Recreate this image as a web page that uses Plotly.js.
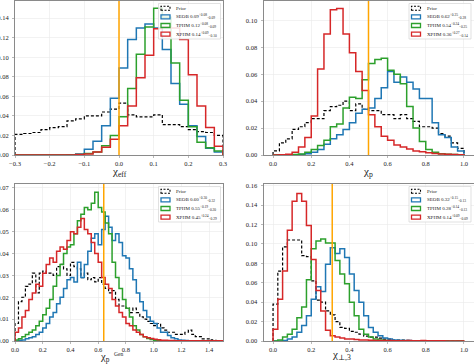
<!DOCTYPE html>
<html><head><meta charset="utf-8">
<script src="https://cdn.plot.ly/plotly-3.0.1.min.js"></script>
<style>html,body{margin:0;padding:0;background:#fff}#chart{width:474px;height:364px}</style>
</head><body><div id="chart"></div>
<script>
// ---------------- data ----------------
const axisTitles = ['χ<sub>eff</sub>', 'χ<sub>p</sub>', 'χ<sub>p</sub>', 'χ<sub>⊥,3</sub>'];
const axisTitleSup = ['', '', 'Gen', ''];
const binLo = [-0.3, 0, 0, 0];
const binHi = [0.3, 1, 1.5, 1];
const injected = [0, 0.5, 0.64, 0.31];
const seriesNames = ['Prior', 'SEOB', 'TPHM', 'XPHM'];

const medSEOB = [0.09, 0.62, 0.60, 0.32], upSEOB = [0.08, 0.25, 0.30, 0.15], loSEOB = [0.09, 0.28, 0.32, 0.13];
const medTPHM = [0.12, 0.54, 0.55, 0.28], upTPHM = [0.08, 0.24, 0.19, 0.14], loTPHM = [0.09, 0.25, 0.20, 0.13];
const medXPHM = [0.14, 0.36, 0.45, 0.14], upXPHM = [0.09, 0.27, 0.24, 0.09], loXPHM = [0.10, 0.14, 0.29, 0.09];

// panel 1: chi_eff (24 bins)
const prior1 = [0.021,0.022,0.023,0.026,0.028,0.029,0.035,0.037,0.040,0.040,0.044,0.047,0.053,0.041,0.039,0.039,0.041,0.031,0.031,0.029,0.026,0.024,0.023,0.020];
const seob1  = [0,0,0,0,0,0,0.0003,0.001,0.006,0.014,0.030,0.058,0.089,0.118,0.130,0.134,0.130,0.108,0.073,0.052,0.030,0.019,0.007,0.003];
const tphm1  = [0,0,0,0,0,0,0,0.0005,0.0015,0.003,0.0095,0.020,0.039,0.068,0.103,0.131,0.150,0.141,0.094,0.056,0.029,0.013,0.0075,0.004];
const xphm1  = [0,0,0,0,0,0,0,0.0005,0.001,0.003,0.008,0.016,0.030,0.050,0.079,0.102,0.129,0.131,0.130,0.118,0.082,0.050,0.028,0.009];

// panel 2: chi_p (30 bins)
const prior2 = [0.003,0.009,0.012,0.019,0.021,0.024,0.027,0.027,0.033,0.036,0.037,0.040,0.033,0.038,0.034,0.033,0.033,0.030,0.030,0.027,0.030,0.027,0.025,0.021,0.021,0.020,0.016,0.014,0.009,0.005];
const seob2  = [0,0,0,0,0.0003,0.001,0.002,0.004,0.008,0.012,0.015,0.019,0.024,0.031,0.034,0.035,0.042,0.050,0.062,0.054,0.058,0.054,0.049,0.042,0.042,0.024,0.015,0.013,0.006,0.003];
const tphm2  = [0,0,0,0.0003,0.0007,0.002,0.004,0.007,0.011,0.021,0.023,0.035,0.043,0.042,0.056,0.068,0.071,0.072,0.063,0.060,0.053,0.036,0.020,0.010,0.004,0.002,0.001,0.0005,0.0003,0.0001];
const xphm2  = [0,0.0002,0.0005,0.002,0.006,0.013,0.029,0.064,0.090,0.108,0.109,0.090,0.076,0.062,0.048,0.030,0.021,0.014,0.011,0.0074,0.006,0.0044,0.003,0.0025,0.0017,0.0012,0.0008,0.0005,0.0003,0.0002];

// panel 3: chi_p^Gen (60 bins)
const prior3 = [0.008,0.018,0.020,0.025,0.026,0.031,0.022,0.031,0.032,0.031,0.031,0.030,0.034,0.035,0.033,0.030,0.036,0.034,0.033,0.029,0.031,0.028,0.029,0.027,0.029,0.026,0.024,0.022,0.023,0.019,0.016,0.016,0.015,0.013,0.015,0.013,0.011,0.010,0.009,0.008,0.007,0.008,0.006,0.005,0.004,0.004,0.003,0.003,0.003,0.004,0.005,0.003,0.002,0.002,0.001,0.001,0.0005,0.0003,0.0002,0.0001];
const seob3  = [0,0.0003,0.0005,0.001,0.0015,0.002,0.003,0.004,0.006,0.008,0.011,0.013,0.017,0.020,0.024,0.028,0.029,0.027,0.036,0.029,0.035,0.041,0.047,0.049,0.044,0.051,0.057,0.052,0.046,0.049,0.045,0.039,0.038,0.033,0.028,0.022,0.018,0.014,0.011,0.009,0.008,0.006,0.004,0.004,0.0025,0.0015,0.001,0.0005,0.0003,0.0002,0.0001,0,0,0,0,0,0,0,0,0];
const tphm3  = [0.0005,0.001,0.002,0.003,0.004,0.005,0.007,0.009,0.012,0.015,0.019,0.025,0.030,0.035,0.040,0.043,0.044,0.049,0.055,0.058,0.061,0.060,0.063,0.068,0.061,0.059,0.054,0.049,0.036,0.029,0.024,0.019,0.015,0.011,0.007,0.005,0.003,0.002,0.0012,0.0007,0.0004,0.0002,0.0001,0,0,0,0,0,0,0,0,0,0,0,0,0,0,0,0,0];
const xphm3  = [0.004,0.006,0.011,0.014,0.019,0.022,0.026,0.025,0.031,0.035,0.038,0.036,0.041,0.043,0.042,0.046,0.050,0.049,0.052,0.056,0.051,0.049,0.045,0.040,0.036,0.029,0.026,0.024,0.019,0.016,0.013,0.011,0.008,0.007,0.005,0.004,0.003,0.002,0.0015,0.0012,0.0008,0.0006,0.0004,0.0003,0.0002,0.0002,0.0001,0.0001,0.0001,0.0001,0.0001,0.0001,0.0001,0.0001,0.0001,0.0001,0.0001,0.0001,0.0001,0.0001];

// panel 4: chi_perp,3 (40 bins)
const prior4 = [0.038,0.072,0.097,0.104,0.104,0.104,0.088,0.087,0.062,0.042,0.040,0.031,0.027,0.020,0.014,0.013,0.010,0.009,0.007,0.005,0.004,0.004,0.003,0.002,0.002,0.001,0.001,0.0008,0.0006,0.0005,0.0004,0.0003,0.0003,0.0002,0.0002,0.0001,0.0001,0.0001,0.0001,0];
const seob4  = [0,0,0.0005,0.002,0.004,0.009,0.016,0.026,0.043,0.056,0.051,0.079,0.096,0.090,0.095,0.086,0.069,0.052,0.040,0.026,0.014,0.009,0.0055,0.003,0.002,0.001,0.0008,0.0005,0.0004,0.0003,0.0002,0.0002,0.0001,0.0001,0.0001,0.0001,0,0,0,0];
const tphm4  = [0,0.001,0.004,0.007,0.012,0.024,0.035,0.063,0.095,0.103,0.105,0.101,0.101,0.083,0.069,0.059,0.040,0.026,0.012,0.007,0.004,0.002,0.001,0.0005,0.0003,0.0002,0.0001,0,0,0,0,0,0,0,0,0,0,0,0,0];
const xphm4  = [0.012,0.043,0.072,0.114,0.144,0.152,0.144,0.119,0.084,0.052,0.031,0.011,0.0055,0.004,0.003,0.002,0.002,0.0015,0.001,0.001,0.0008,0.0006,0.0005,0.0004,0.0004,0.0003,0.0003,0.0003,0.0005,0.0003,0.0002,0.0004,0.0002,0.0002,0.0003,0.0002,0.0001,0.0001,0.0001,0.0001];

// ---------------- styling ----------------
const W = 474, H = 364;
const colors = ['#000000', '#1f77b4', '#2ca02c', '#d62728'];
const injColor = '#ffa500';
const serif = 'Liberation Serif, DejaVu Serif, serif';
const panels = [
  {data: [prior1, seob1, tphm1, xphm1], px: [15, 223],      py: [1, 155],   yr: [0, 0.1575], xr: [-0.3, 0.3],   xd: 0.1, yd: 0.02, tx: 119, ty: 172},
  {data: [prior2, seob2, tphm2, xphm2], px: [263.5, 473.5], py: [1, 155],   yr: [0, 0.1145], xr: [-0.05, 1.05], xd: 0.2, yd: 0.02, tx: 368, ty: 172},
  {data: [prior3, seob3, tphm3, xphm3], px: [15, 223],      py: [184, 341], yr: [0, 0.0718], xr: [0, 1.5],      xd: 0.2, yd: 0.01, tx: 112, ty: 357.5},
  {data: [prior4, seob4, tphm4, xphm4], px: [263.5, 473.5], py: [184, 341], yr: [0, 0.1617], xr: [-0.05, 1.05], xd: 0.2, yd: 0.02, tx: 341, ty: 355}
];

function stepXY(lo, hi, vals) {
  const n = vals.length, w = (hi - lo) / n;
  const x = [lo], y = [0];
  for (let i = 0; i < n; i++) { x.push(lo + i * w); y.push(vals[i]); }
  x.push(hi); y.push(vals[n - 1]);
  x.push(hi); y.push(0);
  return {x, y};
}
const fx = p => p / W, fy = p => 1 - p / H;

const traces = [], shapes = [], annotations = [];
const layout = {
  width: W, height: H, margin: {l: 0, r: 0, t: 0, b: 0},
  paper_bgcolor: '#fff', plot_bgcolor: '#fff', showlegend: false,
  font: {family: serif, color: '#222'}
};

panels.forEach((P, k) => {
  const s = k === 0 ? '' : String(k + 1);
  P.data.forEach((vals, j) => {
    const xy = stepXY(binLo[k], binHi[k], vals);
    traces.push({
      type: 'scatter', mode: 'lines', x: xy.x, y: xy.y, name: seriesNames[j],
      xaxis: 'x' + s, yaxis: 'y' + s, hoverinfo: 'skip',
      line: {shape: 'hv', color: colors[j], width: j === 0 ? 1.2 : 1.5, dash: j === 0 ? '3px,2px' : 'solid'}
    });
  });
  const common = {
    showline: true, mirror: true, linecolor: '#8a8a8a', linewidth: 1,
    showgrid: true, gridcolor: '#e9e9e9', gridwidth: 0.6, zeroline: false,
    ticks: 'outside', ticklen: 2, tickcolor: '#8a8a8a', tickwidth: 0.6,
    tickfont: {family: serif, size: 6.5, color: '#222'}
  };
  layout['xaxis' + s] = Object.assign({}, common, {
    domain: [fx(P.px[0]), fx(P.px[1])], anchor: 'y' + s, range: P.xr,
    tick0: 0, dtick: P.xd, tickformat: '.1f'
  });
  layout['yaxis' + s] = Object.assign({}, common, {
    domain: [fy(P.py[1]), fy(P.py[0])], anchor: 'x' + s, range: P.yr,
    tick0: 0, dtick: P.yd, tickformat: '.2f', ticklabelstandoff: 2
  });
  // x-axis label (with optional superscript drawn beside it)
  if (axisTitleSup[k]) {
    annotations.push({xref: 'paper', yref: 'paper', x: fx(P.tx), y: fy(P.ty), xanchor: 'right', yanchor: 'middle',
      showarrow: false, text: axisTitles[k], font: {family: serif, size: 10.5, color: '#222'}});
    annotations.push({xref: 'paper', yref: 'paper', x: fx(P.tx - 0.5), y: fy(P.ty - 3.5), xanchor: 'left', yanchor: 'middle',
      showarrow: false, text: axisTitleSup[k], font: {family: serif, size: 5.5, color: '#222'}});
  } else {
    annotations.push({xref: 'paper', yref: 'paper', x: fx(P.tx), y: fy(P.ty), xanchor: 'center', yanchor: 'middle',
      showarrow: false, text: axisTitles[k], font: {family: serif, size: 11, color: '#222'}});
  }
  // injected value line
  shapes.push({type: 'line', xref: 'x' + s, yref: 'y' + s + ' domain', x0: injected[k], x1: injected[k], y0: 0, y1: 1,
    line: {color: injColor, width: 1.5}});
  // manual legend
  const bw = 62, bh = 35.5;
  const bl = P.px[1] - 2.5 - bw, bt = P.py[0] + 2.5;
  shapes.push({type: 'rect', xref: 'paper', yref: 'paper', x0: fx(bl), x1: fx(bl + bw), y0: fy(bt + bh), y1: fy(bt),
    line: {color: '#d4d4d4', width: 0.7}, fillcolor: 'rgba(255,255,255,0.85)'});
  const labs = [
    'Prior',
    'SEOB ' + medSEOB[k].toFixed(2) + '<sup>+' + upSEOB[k].toFixed(2) + '</sup><sub>−' + loSEOB[k].toFixed(2) + '</sub>',
    'TPHM ' + medTPHM[k].toFixed(2) + '<sup>+' + upTPHM[k].toFixed(2) + '</sup><sub>−' + loTPHM[k].toFixed(2) + '</sub>',
    'XPHM ' + medXPHM[k].toFixed(2) + '<sup>+' + upXPHM[k].toFixed(2) + '</sup><sub>−' + loXPHM[k].toFixed(2) + '</sub>'
  ];
  for (let i = 0; i < 4; i++) {
    const cy = bt + 4.8 + i * 8.6;
    shapes.push({type: 'rect', xref: 'paper', yref: 'paper', x0: fx(bl + 2.5), x1: fx(bl + 11.5), y0: fy(cy + 2), y1: fy(cy - 2),
      line: {color: colors[i], width: i === 0 ? 1.1 : 1.3, dash: i === 0 ? '2px,1.5px' : 'solid'}, fillcolor: 'rgba(0,0,0,0)'});
    annotations.push({xref: 'paper', yref: 'paper', x: fx(bl + 15.5), y: fy(cy), xanchor: 'left', yanchor: 'middle',
      showarrow: false, text: labs[i], font: {family: serif, size: 5, color: '#222'}});
  }
});
layout.shapes = shapes;
layout.annotations = annotations;

Plotly.newPlot('chart', traces, layout, {displayModeBar: false, staticPlot: true});
</script></body></html>
